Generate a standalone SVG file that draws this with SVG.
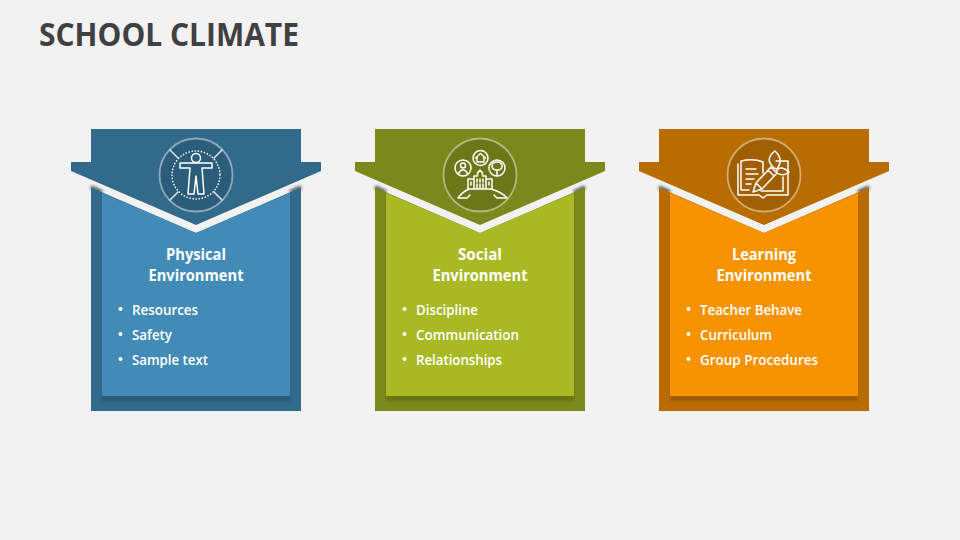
<svg xmlns="http://www.w3.org/2000/svg" width="960" height="540" viewBox="0 0 960 540">
<style>
text{font-family:"Open Sans","Liberation Sans",sans-serif;fill:#fff}
.title{font-size:32px;font-weight:700;fill:#404040}
.h{font-size:16px;font-weight:700;text-anchor:middle}
.b{font-size:14.500px;font-weight:600}
.ic{fill:none;stroke:#fff;stroke-width:1.500;stroke-linejoin:round;stroke-linecap:round}
.ring{fill-opacity:.12;fill:#000;stroke:#fff;stroke-opacity:.45;stroke-width:1.800}
.edge{fill:none;stroke:#222;stroke-width:3.500;opacity:.8}
.blue .o{fill:#326a8b}.blue .i{fill:#428bb6}.blue .s{fill:#2a5a77}
.green .o{fill:#7b881b}.green .i{fill:#a8b923}.green .s{fill:#687317}
.orange .o{fill:#b96d00}.orange .i{fill:#f79200}.orange .s{fill:#9d5d00}
</style>
<defs>
<filter id="bl" x="-40%" y="-200%" width="180%" height="500%"><feGaussianBlur stdDeviation="1.500"/></filter>
<filter id="sh" x="-5%" y="-5%" width="110%" height="110%"><feGaussianBlur stdDeviation="1"/></filter>
</defs>
<rect width="960" height="540" fill="#f2f2f2"/>
<text class="title" x="39" y="46" textLength="260" lengthAdjust="spacingAndGlyphs">SCHOOL CLIMATE</text>

<g id="card-physical" class="blue" transform="translate(91 129)">
<path class="edge" d="M0 58 11 63M210 58 199 63" filter="url(#bl)"/>
<path class="o" d="M0 58.600L105 104 210 58.600V282H0Z"/>
<path class="s" d="M11 66 105 106 199 66V272H11Z" filter="url(#sh)"/>
<path class="i" d="M11 64 105 104 199 64V267H11Z"/>
<path class="o" d="M0 0H210V33H230V42L105 96-20 42V33H0Z"/>
<text class="h" x="105" y="131" textLength="60" lengthAdjust="spacingAndGlyphs">Physical</text>
<text class="h" x="105" y="152" textLength="95" lengthAdjust="spacingAndGlyphs">Environment</text>
<g><circle cx="29.500" cy="180" r="2" fill="#fff"/><text class="b" x="41" y="186" textLength="66" lengthAdjust="spacingAndGlyphs">Resources</text>
<circle cx="29.500" cy="205" r="2" fill="#fff"/><text class="b" x="41" y="211" textLength="40" lengthAdjust="spacingAndGlyphs">Safety</text>
<circle cx="29.500" cy="230" r="2" fill="#fff"/><text class="b" x="41" y="236" textLength="76" lengthAdjust="spacingAndGlyphs">Sample text</text></g>
<circle class="ring" cx="105" cy="46" r="36.500"/>
<g class="ic"><path d="M79 21 87 29M131 21 123 29M79 71 87 63M131 71 123 63" stroke-opacity=".85"/>
<circle cx="105" cy="46" r="24" stroke-width="1.600" stroke-dasharray="0.100 3"/>
<circle cx="105" cy="29" r="4.500"/>
<path d="M89 34H121V39H111L113 65H107L105 47 103 65H97L99 39H89Z"/></g>
</g>

<g id="card-social" class="green" transform="translate(375 129)">
<path class="edge" d="M0 58 11 63M210 58 199 63" filter="url(#bl)"/>
<path class="o" d="M0 58.600L105 104 210 58.600V282H0Z"/>
<path class="s" d="M11 66 105 106 199 66V272H11Z" filter="url(#sh)"/>
<path class="i" d="M11 64 105 104 199 64V267H11Z"/>
<path class="o" d="M0 0H210V33H230V42L105 96-20 42V33H0Z"/>
<text class="h" x="105" y="131" textLength="44" lengthAdjust="spacingAndGlyphs">Social</text>
<text class="h" x="105" y="152" textLength="95" lengthAdjust="spacingAndGlyphs">Environment</text>
<g><circle cx="29.500" cy="180" r="2" fill="#fff"/><text class="b" x="41" y="186" textLength="62" lengthAdjust="spacingAndGlyphs">Discipline</text>
<circle cx="29.500" cy="205" r="2" fill="#fff"/><text class="b" x="41" y="211" textLength="103" lengthAdjust="spacingAndGlyphs">Communication</text>
<circle cx="29.500" cy="230" r="2" fill="#fff"/><text class="b" x="41" y="236" textLength="86" lengthAdjust="spacingAndGlyphs">Relationships</text></g>
<circle class="ring" cx="105" cy="46" r="36.500"/>
<g class="ic"><circle cx="105.500" cy="29" r="7.500"/><path d="M100.500 29 105.500 24.500 110.500 29M102 28V33H109V28"/>
<circle cx="88" cy="39" r="8"/><circle cx="88" cy="36.500" r="2.500"/><path d="M83.500 44.500Q88 37 92.500 44.500"/>
<circle cx="122" cy="39" r="8"/><path d="M122 46V41M117 37Q117 33 122 33 127 33 127 37 127 41 122 41 117 41 117 37Z"/>
<path d="M83 69Q87 63 94 60M116 60Q127 63 132 69M83 69H92L95 66M132 69H122L119 66"/>
<path d="M99 60V47H102.500V44L105 41 107.500 44V47H111V60ZM93 60V50H99M111 50H117V60H93M96 53V56M114 53V56M102 50V53M105 50V53M108 50V53M102 55V60M108 55V60M105 55V60"/></g>
</g>

<g id="card-learning" class="orange" transform="translate(659 129)">
<path class="edge" d="M0 58 11 63M210 58 199 63" filter="url(#bl)"/>
<path class="o" d="M0 58.600L105 104 210 58.600V282H0Z"/>
<path class="s" d="M11 66 105 106 199 66V272H11Z" filter="url(#sh)"/>
<path class="i" d="M11 64 105 104 199 64V267H11Z"/>
<path class="o" d="M0 0H210V33H230V42L105 96-20 42V33H0Z"/>
<text class="h" x="105" y="131" textLength="64" lengthAdjust="spacingAndGlyphs">Learning</text>
<text class="h" x="105" y="152" textLength="95" lengthAdjust="spacingAndGlyphs">Environment</text>
<g><circle cx="29.500" cy="180" r="2" fill="#fff"/><text class="b" x="41" y="186" textLength="102" lengthAdjust="spacingAndGlyphs">Teacher Behave</text>
<circle cx="29.500" cy="205" r="2" fill="#fff"/><text class="b" x="41" y="211" textLength="72" lengthAdjust="spacingAndGlyphs">Curriculum</text>
<circle cx="29.500" cy="230" r="2" fill="#fff"/><text class="b" x="41" y="236" textLength="118" lengthAdjust="spacingAndGlyphs">Group Procedures</text></g>
<circle class="ring" cx="105" cy="46" r="36.500"/>
<g class="ic"><path d="M90 61H82V32Q95 29 104 33V44"/>
<path d="M79 35V66H100L104 69 108 66H129V32H117M124 48V62H102"/>
<path d="M87 40H97M87 45H99M87 50H95M87 55H92"/>
<path d="M94 63 97 54 112 38 118 44 103 60ZM97 54 103 60M109 41 115 47"/>
<path d="M115 39Q105 30 116 22 125 30 118 40ZM118 41Q122 36 130 43 124 48 118 44Z"/></g>
</g>
</svg>
